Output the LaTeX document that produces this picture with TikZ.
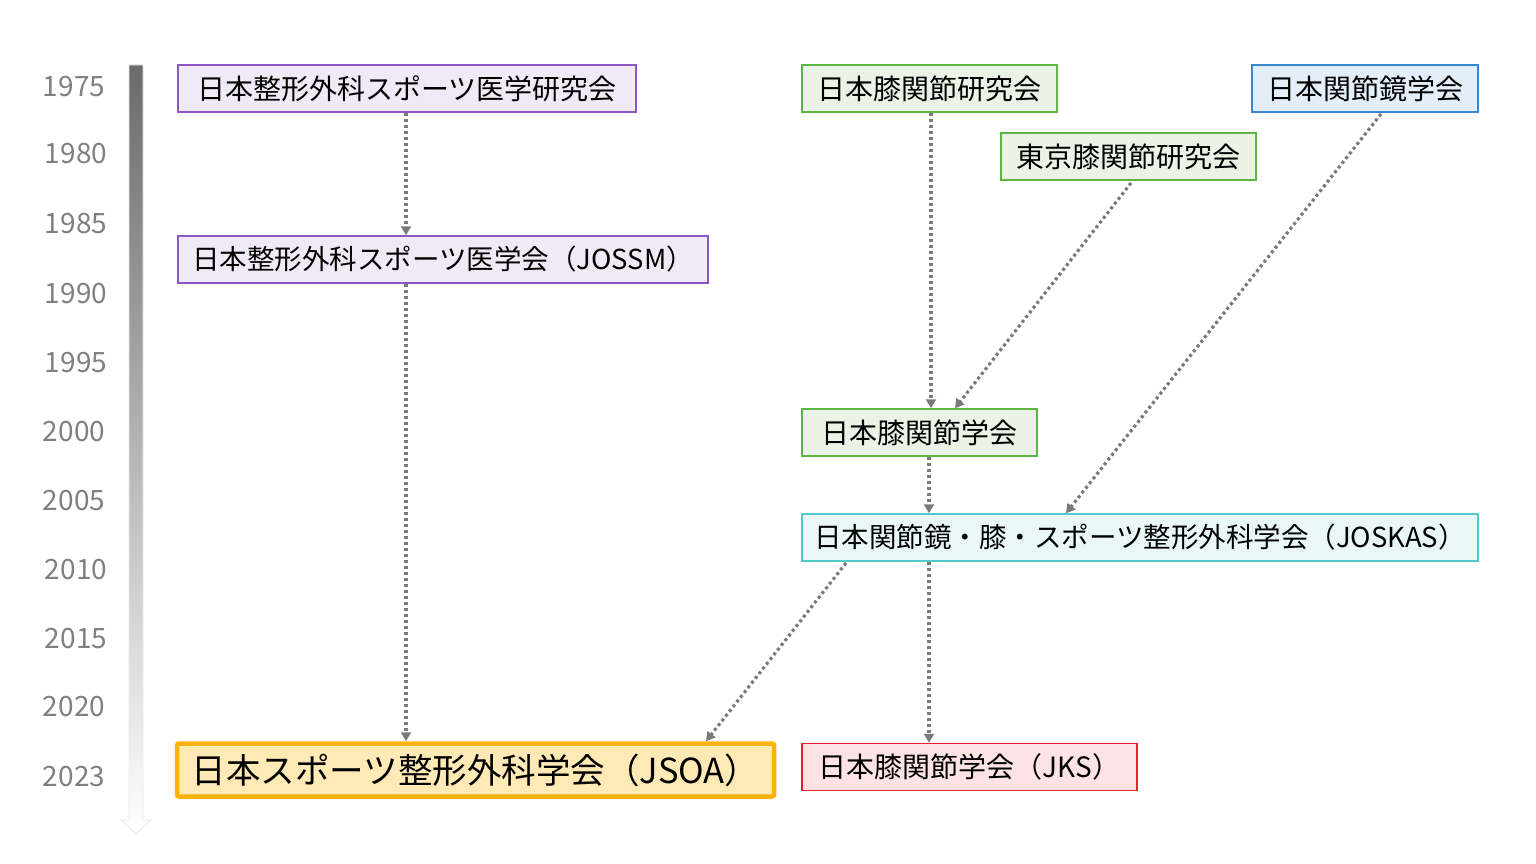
\documentclass[tikz,border=0pt]{standalone}
\usepackage{fontspec}
\setmainfont{Noto Sans CJK JP}
\usetikzlibrary{arrows.meta}
\definecolor{pborder}{HTML}{8E55C6}
\definecolor{pfill}{HTML}{EFEAF5}
\definecolor{gborder}{HTML}{5DB543}
\definecolor{gfill}{HTML}{EBF3E6}
\definecolor{bborder}{HTML}{3A86D0}
\definecolor{bfill}{HTML}{E4EEF8}
\definecolor{tborder}{HTML}{52C9C9}
\definecolor{tfill}{HTML}{E9F7F6}
\definecolor{oborder}{HTML}{FFB300}
\definecolor{ofill}{HTML}{FFE9B5}
\definecolor{rborder}{HTML}{E8202A}
\definecolor{rfill}{HTML}{FDE3E5}
\definecolor{arrowgray}{HTML}{7A7A7A}
\definecolor{yeargray}{HTML}{808080}
\tikzset{
  org/.style={draw, line width=1.5pt, inner sep=0pt, minimum height=47pt, font=\fontsize{28}{30}\selectfont, text=black},
  purplebox/.style={org, draw=pborder, fill=pfill},
  greenbox/.style={org, draw=gborder, fill=gfill},
  bluebox/.style={org, draw=bborder, fill=bfill},
  tealbox/.style={org, draw=tborder, fill=tfill},
  redbox/.style={org, draw=rborder, fill=rfill},
  orangebox/.style={org, draw=oborder, fill=ofill, line width=4.5pt, rounded corners=2pt, minimum height=53pt, font=\fontsize{34.5}{36}\selectfont},
  link/.style={draw=arrowgray, line width=3.2pt, dash pattern=on 3pt off 3pt, -{Triangle[width=10pt,length=9pt]}},
  year/.style={font=\fontsize{28}{30}\selectfont, text=yeargray, anchor=center}
}
\begin{document}
\begin{tikzpicture}[x=1pt,y=-1pt]
\useasboundingbox (0,0) rectangle (1536,864);
\fill[white] (0,0) rectangle (1536,864);
% timeline arrow
\shade[top color=black!58, bottom color=white, draw=black!8, line width=0.8pt]
  (129,65) -- (143,65) -- (143,820) -- (151,820) -- (136,834) -- (121,820) -- (129,820) -- cycle;
% years
\node[year] (y1975) at (74,87) {1975};
\node[year] (y1980) at (76,154) {1980};
\node[year] (y1985) at (76,224) {1985};
\node[year] (y1990) at (76,294) {1990};
\node[year] (y1995) at (76,363) {1995};
\node[year] (y2000) at (74,432) {2000};
\node[year] (y2005) at (74,501) {2005};
\node[year] (y2010) at (76,570) {2010};
\node[year] (y2015) at (76,639) {2015};
\node[year] (y2020) at (74,707) {2020};
\node[year] (y2023) at (74,777) {2023};
% boxes
\node[purplebox, minimum width=458pt] (jossmr) at (407,88.5) {日本整形外科スポーツ医学研究会};
\node[purplebox, minimum width=530pt] (jossm) at (443,259.5) {\fontsize{27.5}{30}\selectfont 日本整形外科スポーツ医学会（JOSSM）};
\node[greenbox, minimum width=255pt] (kneer) at (929.5,88.5) {日本膝関節研究会};
\node[greenbox, minimum width=255pt] (tokyo) at (1128.5,156.5) {東京膝関節研究会};
\node[bluebox, minimum width=226pt] (arth) at (1365,88.5) {日本関節鏡学会};
\node[greenbox, minimum width=235pt] (knee) at (919.5,432.5) {日本膝関節学会};
\node[tealbox, minimum width=676pt] (joskas) at (1140,537.5) {\fontsize{27.5}{30}\selectfont 日本関節鏡・膝・スポーツ整形外科学会（JOSKAS）};
\node[orangebox, minimum width=597pt] (jsoa) at (475.5,770) {日本スポーツ整形外科学会（JSOA）};
\node[redbox, minimum width=335pt] (jks) at (969.5,767) {日本膝関節学会（JKS）};
% connectors
\draw[link] (jossmr.south -| 406,0) -- (jossm.north -| 406,0);
\draw[link] (jossm.south -| 406,0) -- (jsoa.north -| 406,0);
\draw[link] (kneer.south -| 931,0) -- (knee.north -| 931,0);
\draw[link] (1131,183) -- (knee.north -| 955,0);
\draw[link] (1381,114) -- (joskas.north -| 1066,0);
\draw[link] (knee.south -| 929,0) -- (joskas.north -| 929,0);
\draw[link] (846,563) -- (jsoa.north -| 706,0);
\draw[link] (joskas.south -| 929,0) -- (jks.north -| 929,0);
\end{tikzpicture}
\end{document}
